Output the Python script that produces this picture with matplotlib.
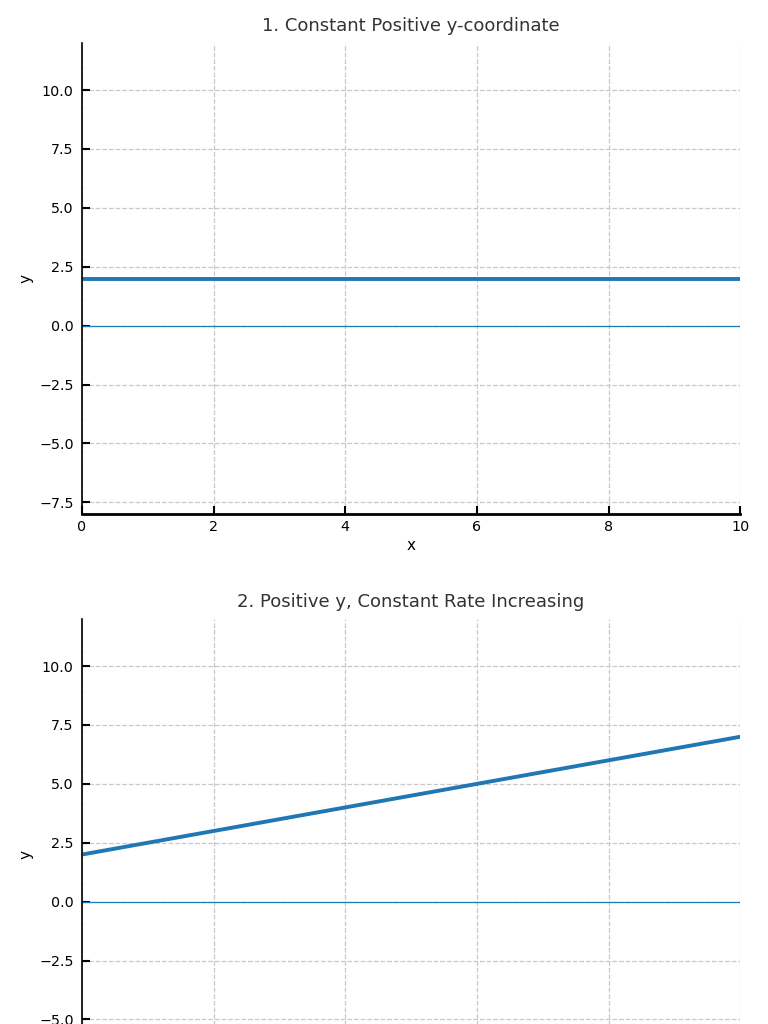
import numpy as np
import matplotlib
matplotlib.use("Agg")
import matplotlib.pyplot as plt

# data
x_vals = [0, 10]
y_const = [2, 2]
y_incr = [2, 7]
titles = ["1. Constant Positive y-coordinate",
          "2. Positive y, Constant Rate Increasing"]
series = [y_const, y_incr]

fig = plt.figure(figsize=(7.68, 10.24), dpi=100)

# second panel runs off the bottom edge, like the reference
boxes = [[0.1068, 0.498, 0.857, 0.46],
         [0.1068, -0.0645, 0.857, 0.46]]

for i, (box, ys, title) in enumerate(zip(boxes, series, titles)):
    ax = fig.add_axes(box)
    ax.plot(x_vals, ys, color="#1f77b4", lw=2.8, solid_capstyle="butt")
    ax.axhline(0, color="#1f77b4", lw=0.9)
    ax.set_xlim(0, 10)
    ax.set_ylim(-8, 12)
    ax.set_yticks([-7.5, -5.0, -2.5, 0.0, 2.5, 5.0, 7.5, 10.0])
    ax.set_xticks([0, 2, 4, 6, 8, 10])
    ax.grid(True, ls="--", color="#c8c8c8", lw=0.9)
    ax.set_axisbelow(True)
    for s in ["top", "right"]:
        ax.spines[s].set_visible(False)
    ax.spines["bottom"].set_linewidth(2)
    ax.spines["left"].set_linewidth(1.2)
    ax.tick_params(direction="in", length=6, width=1.5, labelsize=10.3)
    ax.tick_params(axis="x", pad=4)
    ax.tick_params(axis="y", pad=6)
    ax.set_title(title, fontsize=13, color="#333333", pad=9)
    ax.set_ylabel("y", fontsize=11, labelpad=4)
    if i == 0:
        ax.set_xlabel("x", fontsize=11, labelpad=3)

fig.savefig("out.png", dpi=100)
